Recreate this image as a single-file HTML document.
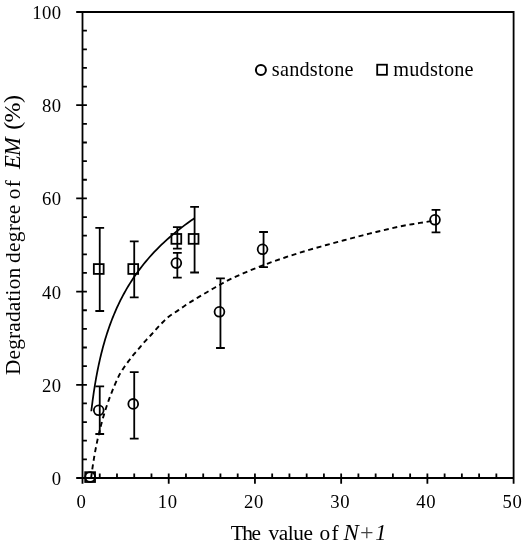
<!DOCTYPE html><html><head><meta charset="utf-8"><title>chart</title><style>html,body{margin:0;padding:0;background:#fff}svg{display:block}</style></head><body><svg width="529" height="550" viewBox="0 0 529 550">
<rect width="529" height="550" fill="#fff"/>
<g stroke="#000" stroke-width="1.8" fill="none" stroke-linecap="butt">
<path d="M76.20 12.00H513.60V483.80M82.50 11.10V483.80M76.20 478.00H514.50"/>
<path d="M82.50 459.36h4.4M82.50 440.72h4.4M82.50 422.08h4.4M82.50 403.44h4.4M76.20 384.80H86.90M82.50 366.16h4.4M82.50 347.52h4.4M82.50 328.88h4.4M82.50 310.24h4.4M76.20 291.60H86.90M82.50 272.96h4.4M82.50 254.32h4.4M82.50 235.68h4.4M82.50 217.04h4.4M76.20 198.40H86.90M82.50 179.76h4.4M82.50 161.12h4.4M82.50 142.48h4.4M82.50 123.84h4.4M76.20 105.20H86.90M82.50 86.56h4.4M82.50 67.92h4.4M82.50 49.28h4.4M82.50 30.64h4.4M99.74 478.00v-4.5M116.99 478.00v-4.5M134.23 478.00v-4.5M151.48 478.00v-4.5M168.72 483.80V473.50M185.96 478.00v-4.5M203.21 478.00v-4.5M220.45 478.00v-4.5M237.70 478.00v-4.5M254.94 483.80V473.50M272.18 478.00v-4.5M289.43 478.00v-4.5M306.67 478.00v-4.5M323.92 478.00v-4.5M341.16 483.80V473.50M358.40 478.00v-4.5M375.65 478.00v-4.5M392.89 478.00v-4.5M410.14 478.00v-4.5M427.38 483.80V473.50M444.62 478.00v-4.5M461.87 478.00v-4.5M479.11 478.00v-4.5M496.36 478.00v-4.5"/>
<path d="M91.29 411.26L91.58 408.84L91.87 406.43L92.18 404.02L92.49 401.60L92.81 399.19L93.14 396.78L93.49 394.36L93.84 391.95L94.21 389.54L94.59 387.12L94.98 384.71L95.38 382.29L95.80 379.88L96.23 377.47L96.67 375.05L97.13 372.64L97.60 370.23L98.09 367.81L98.60 365.40L99.12 362.99L99.65 360.57L100.21 358.16L100.78 355.75L101.37 353.33L101.98 350.92L102.61 348.50L103.26 346.09L103.93 343.68L104.63 341.26L105.34 338.85L106.08 336.44L106.84 334.02L107.63 331.61L108.44 329.20L109.28 326.78L110.14 324.37L111.04 321.95L111.96 319.54L112.91 317.13L113.90 314.71L114.91 312.30L115.96 309.89L117.04 307.47L118.16 305.06L119.31 302.65L120.50 300.23L121.73 297.82L123.00 295.41L124.31 292.99L125.66 290.58L127.05 288.16L128.49 285.75L129.98 283.34L131.51 280.92L133.10 278.51L134.73 276.10L136.42 273.68L138.16 271.27L139.96 268.86L141.82 266.44L143.74 264.03L145.72 261.62L147.76 259.20L149.87 256.79L152.05 254.37L154.30 251.96L156.62 249.55L159.02 247.13L161.49 244.72L164.04 242.31L166.68 239.89L169.40 237.48L172.21 235.07L175.11 232.65L178.10 230.24L181.19 227.82L184.38 225.41L187.68 223.00L191.08 220.58L194.59 218.17" stroke-width="1.75" stroke-linejoin="round"/>
<path d="M91.12 478.00L91.32 476.40L91.53 474.79L91.74 473.19L91.96 471.59L92.18 469.99L92.41 468.39L92.64 466.79L92.88 465.19L93.12 463.59L93.37 461.99L93.63 460.39L93.89 458.79L94.16 457.19L94.43 455.59L94.71 454.00L95.00 452.40L95.29 450.80L95.59 449.21L95.90 447.61L96.22 446.02L96.54 444.42L96.87 442.83L97.20 441.23L97.55 439.64L97.90 438.05L98.26 436.46L98.63 434.86L99.01 433.27L99.40 431.68L99.80 430.09L100.20 428.43L100.62 426.77L101.05 425.11L101.48 423.45L101.93 421.79L102.38 420.13L102.85 418.47L103.33 416.80L103.82 415.14L104.32 413.47L104.83 411.81L105.35 410.14L105.89 408.47L106.44 406.80L107.00 405.12L107.58 403.45L108.17 401.78L108.77 400.10L109.39 398.42L110.02 396.74L110.66 395.06L111.32 393.35L112.00 391.62L112.69 389.88L113.40 388.14L114.13 386.40L114.87 384.65L115.63 382.90L116.41 381.15L117.21 379.39L118.02 377.64L118.85 375.87L119.71 374.16L120.58 372.73L121.48 371.30L122.39 369.87L123.33 368.46L124.29 367.04L125.27 365.63L126.27 364.23L127.30 362.83L128.35 361.43L129.43 360.02L130.53 358.56L131.66 357.11L132.81 355.67L133.99 354.22L135.20 352.78L136.44 351.35L137.71 349.92L139.00 348.43L140.33 346.81L141.69 345.19L143.08 343.58L144.50 341.96L145.96 340.34L147.45 338.72L148.97 337.11L150.53 335.49L152.13 333.77L153.77 331.88L155.44 330.00L157.15 328.10L158.90 326.20L160.70 324.32L162.53 322.49L164.41 320.65L166.34 318.81L168.31 316.97L170.32 315.49L172.38 314.11L174.49 312.74L176.65 311.37L178.86 309.85L181.13 308.26L183.44 306.67L185.81 305.08L188.24 303.49L190.72 301.91L193.26 300.32L195.86 298.73L198.53 297.15L201.25 295.56L204.04 293.93L206.89 292.19L209.81 290.45L212.80 288.71L215.86 286.96L218.99 285.21L222.20 283.46L225.48 281.70L228.84 279.94L232.27 278.31L235.79 276.70L239.39 275.08L243.07 273.46L246.84 271.85L250.70 270.23L254.65 268.61L258.70 267.00L262.83 265.38L267.07 263.79L271.40 262.21L275.84 260.63L280.38 259.06L285.02 257.48L289.78 255.90L294.65 254.33L299.63 252.76L304.73 251.20L309.94 249.65L315.28 248.09L320.75 246.54L326.34 244.99L332.07 243.44L337.93 241.89L343.93 240.29L350.07 238.63L356.35 236.97L362.78 235.31L369.36 233.65L376.10 231.99L382.99 230.33L390.05 228.66L397.27 227.00L404.66 225.49L412.23 224.20L419.97 222.92L427.89 221.65L436.00 220.39" stroke-dasharray="5 3.7" stroke-width="1.9" stroke-linejoin="round"/>
<path d="M99.74 386.30V434.00M95.34 386.30h8.8M95.34 434.00h8.8M134.23 372.10V438.70M129.83 372.10h8.8M129.83 438.70h8.8M177.34 252.90V277.70M172.94 252.90h8.8M172.94 277.70h8.8M220.45 278.40V348.00M216.05 278.40h8.8M216.05 348.00h8.8M263.56 232.00V267.10M259.16 232.00h8.8M259.16 267.10h8.8M436.00 209.80V232.30M431.60 209.80h8.8M431.60 232.30h8.8M99.74 227.80V311.00M95.34 227.80h8.8M95.34 311.00h8.8M134.23 241.40V297.40M129.83 241.40h8.8M129.83 297.40h8.8M177.34 227.10V248.70M172.94 227.10h8.8M172.94 248.70h8.8M194.59 206.80V272.50M190.19 206.80h8.8M190.19 272.50h8.8"/>
<circle cx="90.12" cy="477.10" r="4.9"/>
<circle cx="98.74" cy="410.30" r="4.9"/>
<circle cx="133.23" cy="403.90" r="4.9"/>
<circle cx="176.34" cy="263.10" r="4.9"/>
<circle cx="219.45" cy="311.80" r="4.9"/>
<circle cx="262.56" cy="249.30" r="4.9"/>
<circle cx="435.00" cy="219.80" r="4.9"/>
<rect x="85.22" y="472.20" width="9.8" height="9.8"/>
<rect x="93.84" y="264.10" width="9.8" height="9.8"/>
<rect x="128.33" y="264.10" width="9.8" height="9.8"/>
<rect x="171.44" y="234.00" width="9.8" height="9.8"/>
<rect x="188.69" y="234.00" width="9.8" height="9.8"/>
<circle cx="260.9" cy="69.9" r="5" stroke-width="2"/>
<rect x="377.2" y="64.7" width="9.7" height="10.1" stroke-width="1.8"/>
</g>
<g font-family="'Liberation Serif', serif" fill="#000">
<g font-size="18.67" text-anchor="end" letter-spacing="0.45">
<text x="61.6" y="485.00">0</text>
<text x="61.6" y="391.80">20</text>
<text x="61.6" y="298.60">40</text>
<text x="61.6" y="205.40">60</text>
<text x="61.6" y="112.20">80</text>
<text x="61.6" y="19.00">100</text>
</g><g font-size="18.67" text-anchor="middle" letter-spacing="0.7">
<text x="81.50" y="508">0</text>
<text x="167.72" y="508">10</text>
<text x="253.94" y="508">20</text>
<text x="340.16" y="508">30</text>
<text x="426.38" y="508">40</text>
<text x="512.60" y="508">50</text>
</g>
<text x="271.8" y="76.2" font-size="20.3" letter-spacing="0.22">sandstone</text>
<text x="393.3" y="76.2" font-size="20.3" letter-spacing="0.2">mudstone</text>
<text x="230.7" y="539.5" font-size="21.33" letter-spacing="-1.5">The</text>
<text x="268.6" y="539.5" font-size="21.33" letter-spacing="-0.45">value</text>
<text x="319.5" y="539.5" font-size="21.33" letter-spacing="1.3">of</text>
<text x="343.6" y="539.5" font-size="23" font-style="italic">N</text>
<text x="358.4" y="539.6" font-size="24" font-style="italic" fill="#444">+</text>
<text x="375.3" y="539.5" font-size="22.3" font-style="italic">1</text>
<g transform="translate(20 374.1) rotate(-90)">
<text x="-1" y="0" font-size="21.33" letter-spacing="0.19">Degradation</text>
<text x="111.2" y="0" font-size="21.33" letter-spacing="0.28">degree</text>
<text x="174.8" y="0" font-size="21.33" letter-spacing="1.3">of</text>
<text x="205.2" y="0" font-size="22.6" font-style="italic" letter-spacing="-1.0">EM</text>
<text x="244.3" y="0" font-size="24" letter-spacing="-0.6">(%)</text>
</g>
</g></svg></body></html>
